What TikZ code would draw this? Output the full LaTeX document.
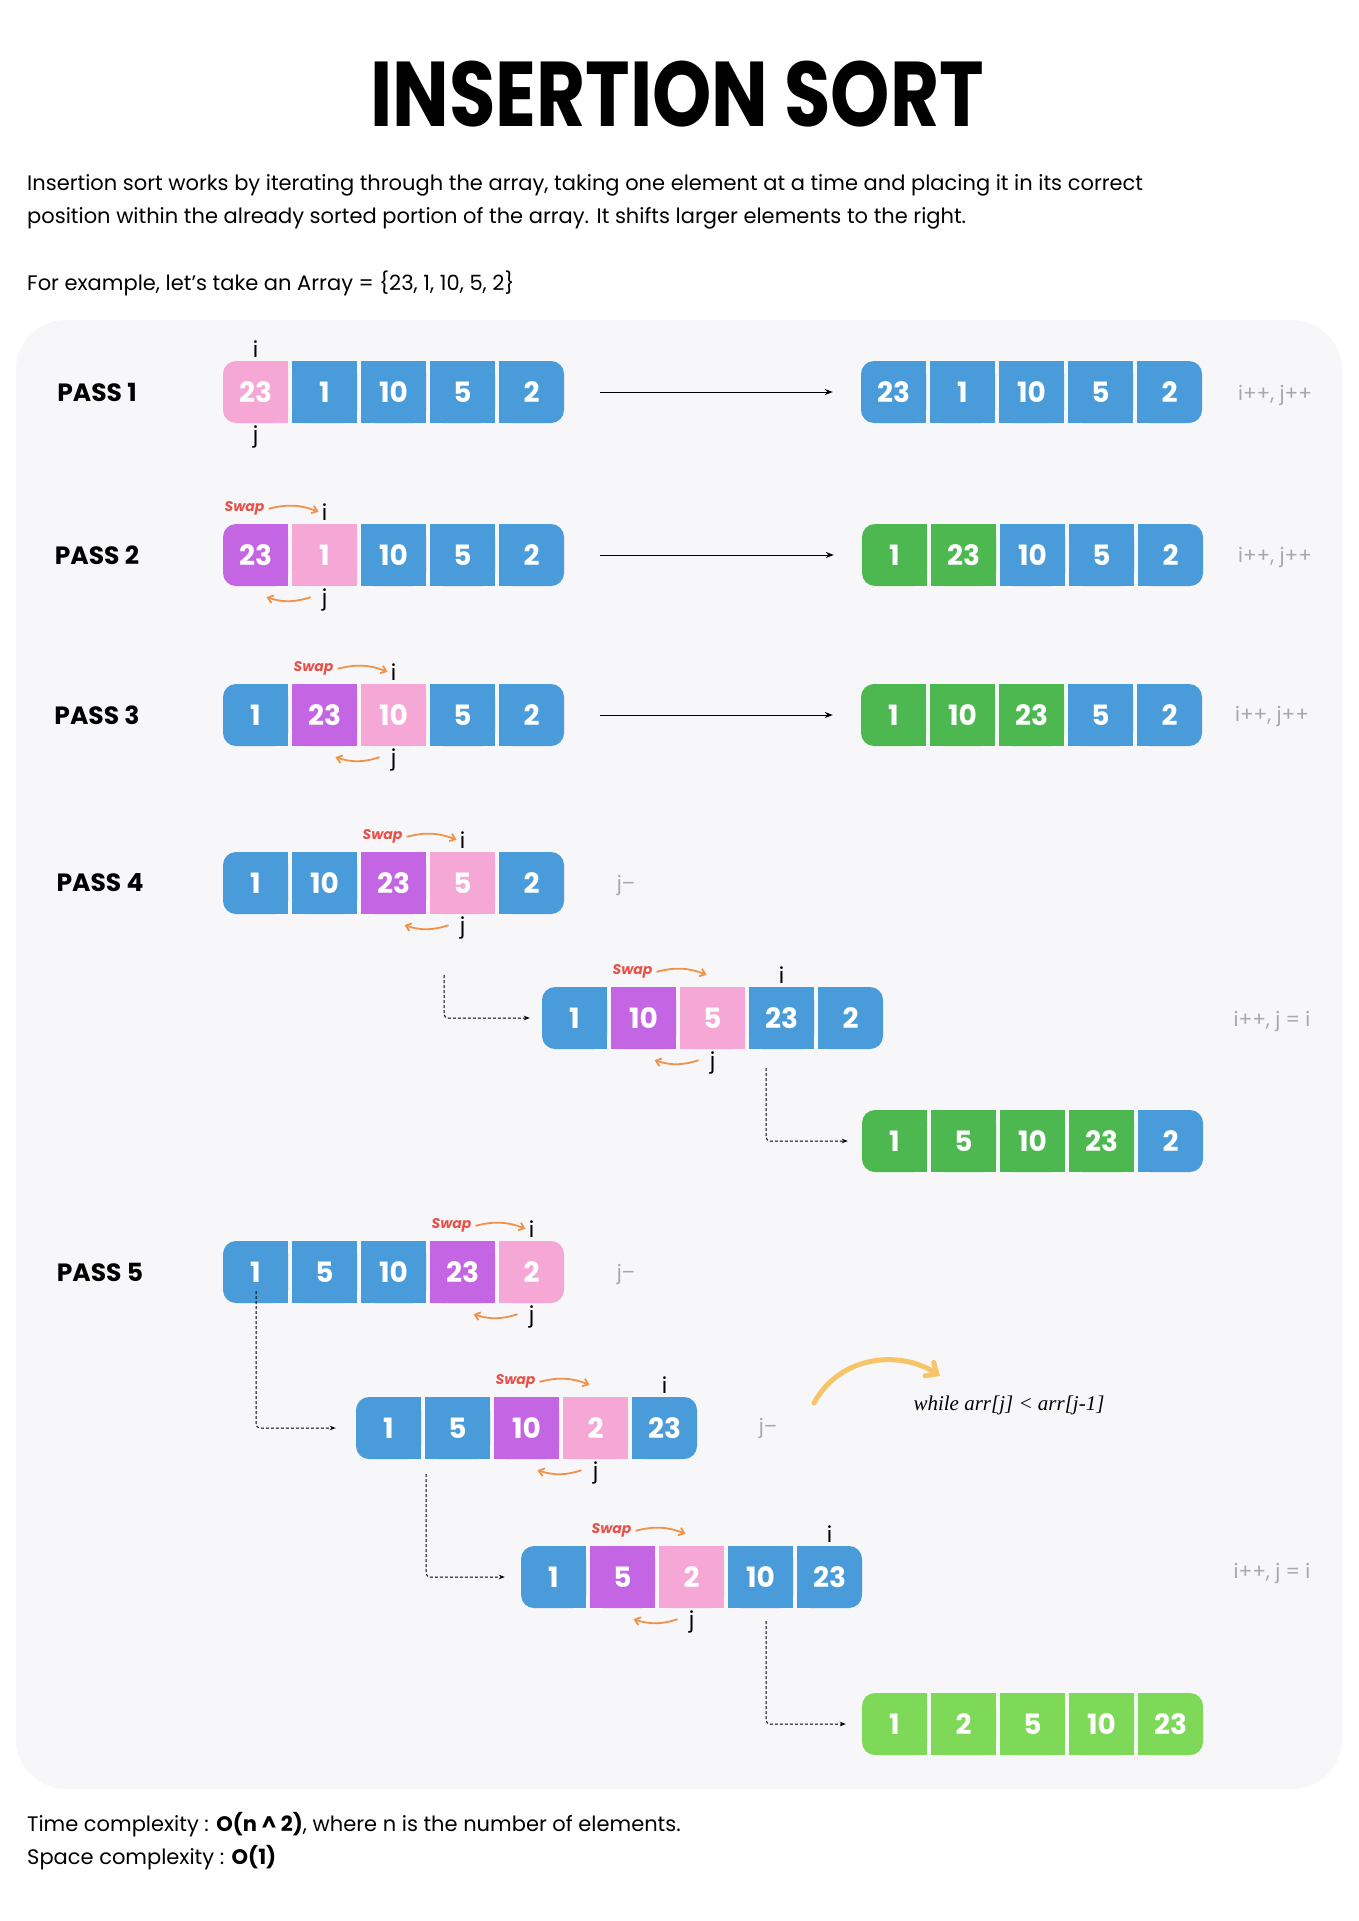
\documentclass[tikz,border=0pt]{standalone}
\usepackage{fontspec}
\setmainfont{Poppins}
\newfontfamily\serifit{Liberation Serif}
\usetikzlibrary{arrows.meta,calc}
\definecolor{cblue}{HTML}{4A9BDA}
\definecolor{cpink}{HTML}{F5A8D6}
\definecolor{cpurp}{HTML}{C466E3}
\definecolor{cgreen}{HTML}{4CB84F}
\definecolor{clgreen}{HTML}{7DD957}
\definecolor{corange}{HTML}{F0924A}
\definecolor{cred}{HTML}{E5534B}
\definecolor{cpanel}{HTML}{F7F6F8}
\definecolor{cgray}{HTML}{A8A8A8}
\definecolor{cyel}{HTML}{F8C46A}
\tikzset{
 numtxt/.style={text=white,font=\fontsize{28}{30}\selectfont\bfseries,inner sep=0pt,minimum width=65pt,minimum height=62pt},
 ijtxt/.style={font=\fontsize{22}{24}\selectfont,inner sep=1pt},
 swaptxt/.style={text=cred,font=\fontsize{14}{16}\selectfont\bfseries\itshape,inner sep=0pt},
 passtxt/.style={font=\fontsize{25}{27}\selectfont\bfseries},
 sidetxt/.style={text=cgray,font=\fontsize{20}{22}\selectfont},
 orarrow/.style={corange,line width=1.8pt,-{Straight Barb[length=5pt,width=8pt]}},
 passarrow/.style={black,line width=1pt,-{Stealth[length=8pt]}},
 elbow/.style={black,line width=1pt,dashed,dash pattern=on 3pt off 2pt,rounded corners=4pt,-{Stealth[length=6pt]}}
}
% #1 name, #2 x-left, #3 y-center, #4 list color/value
\newcommand\cellrow[4]{%
 \foreach \col/\val [count=\k] in {#4}{%
  \pgfmathsetmacro\xl{#2+(\k-1)*69}%
  \pgfmathsetmacro\xr{\xl+65}%
  \pgfmathsetmacro\yt{#3-31}%
  \pgfmathsetmacro\yb{#3+31}%
  \fill[\col,rounded corners=13pt] (\xl,\yt) rectangle (\xr,\yb);
  \ifnum\k>1 \fill[\col] (\xl,\yt) rectangle (\xl+33,\yb);\fi
  \ifnum\k<5 \fill[\col] (\xr-33,\yt) rectangle (\xr,\yb);\fi
  \node[numtxt] (#1-\k) at (\xl+32.5,#3) {\val};
 }}
% #1 row name, #2 i col, #3 j col, #4 swap (1/0)
\newcommand\ijmarks[4]{%
 \node[ijtxt,anchor=south] (#1-i) at ([yshift=2pt]#1-#2.north) {i};
 \node[ijtxt,anchor=north] (#1-j) at ([yshift=-1pt]#1-#3.south) {j};
 \ifnum#4=1
  \node[swaptxt] (#1-sw) at ([xshift=-80pt,yshift=15pt]#1-#3.north) {Swap};
  \draw[orarrow] ([xshift=4pt]#1-sw.east) to[bend left=18] ([xshift=-6pt,yshift=12pt]#1-#3.north);
  \draw[orarrow] ([xshift=-14pt,yshift=-11pt]#1-#3.south) to[bend left=18] ([xshift=-58pt,yshift=-11pt]#1-#3.south);
 \fi}
\begin{document}
\begin{tikzpicture}[x=1pt,y=-1pt]
\useasboundingbox (0,0) rectangle (1358,1921);
\fill[white] (0,0) rectangle (1358,1921);
\fill[cpanel,rounded corners=50pt] (16,320) rectangle (1342,1789);
\node (title) at (677,94) {\scalebox{0.82}[1]{\fontsize{92}{96}\selectfont\bfseries INSERTION SORT}};
\node[anchor=west,inner sep=0pt] (d1) at (27,185) {\fontsize{21}{24}\selectfont Insertion sort works by iterating through the array, taking one element at a time and placing it in its correct};
\node[anchor=west,inner sep=0pt] (d2) at (27,218) {\fontsize{21}{24}\selectfont position within the already sorted portion of the array. It shifts larger elements to the right.};
\node[anchor=west,inner sep=0pt] (d3) at (27,283) {\fontsize{21}{24}\selectfont For example, let’s take an Array = \{23, 1, 10, 5, 2\}};
% pass labels
\node[passtxt] (p1) at (97,392) {PASS 1};
\node[passtxt] (p2) at (97,555) {PASS 2};
\node[passtxt] (p3) at (97,715) {PASS 3};
\node[passtxt] (p4) at (100,883) {PASS 4};
\node[passtxt] (p5) at (100,1272) {PASS 5};
% rows
\cellrow{a}{223}{392}{cpink/23,cblue/1,cblue/10,cblue/5,cblue/2}
\cellrow{ar}{861}{392}{cblue/23,cblue/1,cblue/10,cblue/5,cblue/2}
\cellrow{b}{223}{555}{cpurp/23,cpink/1,cblue/10,cblue/5,cblue/2}
\cellrow{br}{862}{555}{cgreen/1,cgreen/23,cblue/10,cblue/5,cblue/2}
\cellrow{c}{223}{715}{cblue/1,cpurp/23,cpink/10,cblue/5,cblue/2}
\cellrow{cr}{861}{715}{cgreen/1,cgreen/10,cgreen/23,cblue/5,cblue/2}
\cellrow{d}{223}{883}{cblue/1,cblue/10,cpurp/23,cpink/5,cblue/2}
\cellrow{e}{542}{1018}{cblue/1,cpurp/10,cpink/5,cblue/23,cblue/2}
\cellrow{f}{862}{1141}{cgreen/1,cgreen/5,cgreen/10,cgreen/23,cblue/2}
\cellrow{g}{223}{1272}{cblue/1,cblue/5,cblue/10,cpurp/23,cpink/2}
\cellrow{h}{356}{1428}{cblue/1,cblue/5,cpurp/10,cpink/2,cblue/23}
\cellrow{k}{521}{1577}{cblue/1,cpurp/5,cpink/2,cblue/10,cblue/23}
\cellrow{m}{862}{1724}{clgreen/1,clgreen/2,clgreen/5,clgreen/10,clgreen/23}
% i/j marks
\ijmarks{a}{1}{1}{0}
\ijmarks{b}{2}{2}{1}
\ijmarks{c}{3}{3}{1}
\ijmarks{d}{4}{4}{1}
\ijmarks{e}{4}{3}{1}
\ijmarks{g}{5}{5}{1}
\ijmarks{h}{5}{4}{1}
\ijmarks{k}{5}{3}{1}
% pass arrows
\draw[passarrow] ([xshift=36pt]a-5.east) -- ([xshift=-28pt]ar-1.west);
\draw[passarrow] ([xshift=36pt]b-5.east) -- ([xshift=-28pt]br-1.west);
\draw[passarrow] ([xshift=36pt]c-5.east) -- ([xshift=-28pt]cr-1.west);
% side labels
\node[sidetxt] (s1) at (1275,395) {i++, j++};
\node[sidetxt] (s2) at (1275,557) {i++, j++};
\node[sidetxt] (s3) at (1272,716) {i++, j++};
\node[sidetxt] (s4) at (1272,1021) {i++, j = i};
\node[sidetxt] (s5) at (1272,1573) {i++, j = i};
\node[sidetxt] (jm1) at (626,885) {j--};
\node[sidetxt] (jm2) at (626,1274) {j--};
\node[sidetxt] (jm3) at (768,1428) {j--};
% elbows
\coordinate (e1s) at (444,975);
\draw[elbow] (e1s) |- ([xshift=-12pt]e-1.west);
\coordinate (e2s) at (766,1068);
\draw[elbow] (e2s) |- ([xshift=-14pt]f-1.west);
\coordinate (e3s) at (256,1291);
\draw[elbow] (e3s) |- ([xshift=-20pt]h-1.west);
\coordinate (e4s) at (426,1474);
\draw[elbow] (e4s) |- ([xshift=-16pt]k-1.west);
\coordinate (e5s) at (766,1621);
\draw[elbow] (e5s) |- ([xshift=-16pt]m-1.west);
% while note
\node[inner sep=0pt] (wh) at (1009,1405) {\serifit\itshape\fontsize{21}{24}\selectfont while arr[j] < arr[j-1]};
\coordinate (ws) at (814,1403);
\draw[cyel,line width=5pt,line cap=round,-{Straight Barb[length=9pt,width=16pt,line cap=round]}] (ws) .. controls (840,1355) and (900,1350) .. (940,1376);
% footer
\node[anchor=west,inner sep=0pt] (f1) at (27,1825) {\fontsize{21}{24}\selectfont Time complexity : \textbf{O(n \^{} 2)}, where n is the number of elements.};
\node[anchor=west,inner sep=0pt] (f2) at (27,1858) {\fontsize{21}{24}\selectfont Space complexity : \textbf{O(1)}};
\end{tikzpicture}
\end{document}
